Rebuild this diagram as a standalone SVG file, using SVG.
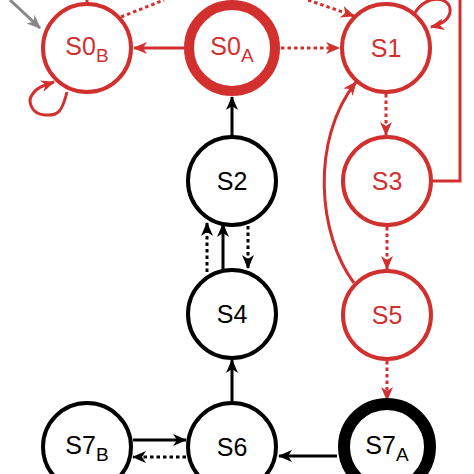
<svg xmlns="http://www.w3.org/2000/svg" width="474" height="474" viewBox="0 0 474 474">
<style>
.red{stroke:#d22f2f;fill:none}
.blk{stroke:#000;fill:none}
.node{fill:#fff;stroke-width:4}
.c{stroke-width:3;fill:none}
.dot{stroke-dasharray:3.5,3}
text{font-family:"Liberation Sans",Arial,sans-serif;font-size:25px;text-anchor:middle}
.tr{fill:#d22f2f}
.tb{fill:#000}
.sub{font-size:19px}
</style>
<defs>
<marker id="ar" viewBox="0 0 14 12" refX="13" refY="6" markerWidth="14" markerHeight="12" markerUnits="userSpaceOnUse" orient="auto"><path d="M0,0 L14,6 L0,12 L4,6 z" fill="#d22f2f"/></marker>
<marker id="ab" viewBox="0 0 14 12" refX="13" refY="6" markerWidth="14" markerHeight="12" markerUnits="userSpaceOnUse" orient="auto"><path d="M0,0 L14,6 L0,12 L4,6 z" fill="#000"/></marker>
<marker id="ag" viewBox="0 0 14 12" refX="13" refY="6" markerWidth="14" markerHeight="12" markerUnits="userSpaceOnUse" orient="auto"><path d="M0,0 L14,6 L0,12 L4,6 z" fill="#888"/></marker>
</defs>
<g id="connectors">
<path d="M10,0 L40,28" stroke="#888" stroke-width="3" fill="none" marker-end="url(#ag)"/>
<path class="red c" d="M87,0 V4"/>
<path class="red c dot" d="M121,17 L164,0"/>
<path class="red c dot" d="M308,0 L354,16" marker-end="url(#ar)"/>
<path class="red c" d="M184,48 H134" marker-end="url(#ar)"/>
<path class="red c dot" d="M281,48 H339" marker-end="url(#ar)"/>
<path class="red c" d="M415,13 C425,-6 452,-4 450,12 C449,20 440,25 431,27" marker-end="url(#ar)"/>
<path class="red c" d="M432,181 H460 V0"/>
<path class="red c dot" d="M386,94 V135" marker-end="url(#ar)"/>
<path class="red c dot" d="M387,227 V269" marker-end="url(#ar)"/>
<path class="red c dot" d="M387,361 V400" marker-end="url(#ar)"/>
<path class="red c" d="M354,283 C318,235 310,140 356,82" marker-end="url(#ar)"/>
<path class="red c" d="M67,92 C62,112 58,116 45,115 C30,114 28,100 32,95 C36,88 42,86 54,82" marker-end="url(#ar)"/>
<path class="blk c" d="M232,135 V97" marker-end="url(#ab)"/>
<path class="blk c dot" d="M207,272 V223" marker-end="url(#ab)"/>
<path class="blk c" d="M223,270 V224" marker-end="url(#ab)"/>
<path class="blk c dot" d="M248,226 V268" marker-end="url(#ab)"/>
<path class="blk c" d="M232,401 V360" marker-end="url(#ab)"/>
<path class="blk c" d="M133,440 H186" marker-end="url(#ab)"/>
<path class="blk c dot" d="M186,457 H133" marker-end="url(#ab)"/>
<path class="blk c" d="M337,456 H279" marker-end="url(#ab)"/>
</g>
<g id="S0B"><circle class="red node" cx="87" cy="48" r="44"/><text class="tr" x="87" y="55">S0<tspan class="sub" dy="7">B</tspan></text></g>
<g id="S0A"><circle class="red node" cx="232" cy="48" r="43" style="stroke-width:10"/><text class="tr" x="232" y="55">S0<tspan class="sub" dy="7">A</tspan></text></g>
<g id="S1"><circle class="red node" cx="386" cy="48" r="44"/><text class="tr" x="386" y="57">S1</text></g>
<g id="S2"><circle class="blk node" cx="232" cy="181" r="44"/><text class="tb" x="232" y="190">S2</text></g>
<g id="S3"><circle class="red node" cx="387" cy="181" r="44"/><text class="tr" x="387" y="190">S3</text></g>
<g id="S4"><circle class="blk node" cx="232" cy="314" r="44"/><text class="tb" x="232" y="323">S4</text></g>
<g id="S5"><circle class="red node" cx="387" cy="315" r="44"/><text class="tr" x="387" y="324">S5</text></g>
<g id="S7B"><circle class="blk node" cx="87" cy="447" r="44"/><text class="tb" x="87" y="454">S7<tspan class="sub" dy="7">B</tspan></text></g>
<g id="S6"><circle class="blk node" cx="232" cy="447" r="44"/><text class="tb" x="232" y="456">S6</text></g>
<g id="S7A"><circle class="blk node" cx="387" cy="447" r="43" style="stroke-width:12"/><text class="tb" x="387" y="454">S7<tspan class="sub" dy="7">A</tspan></text></g>
</svg>
